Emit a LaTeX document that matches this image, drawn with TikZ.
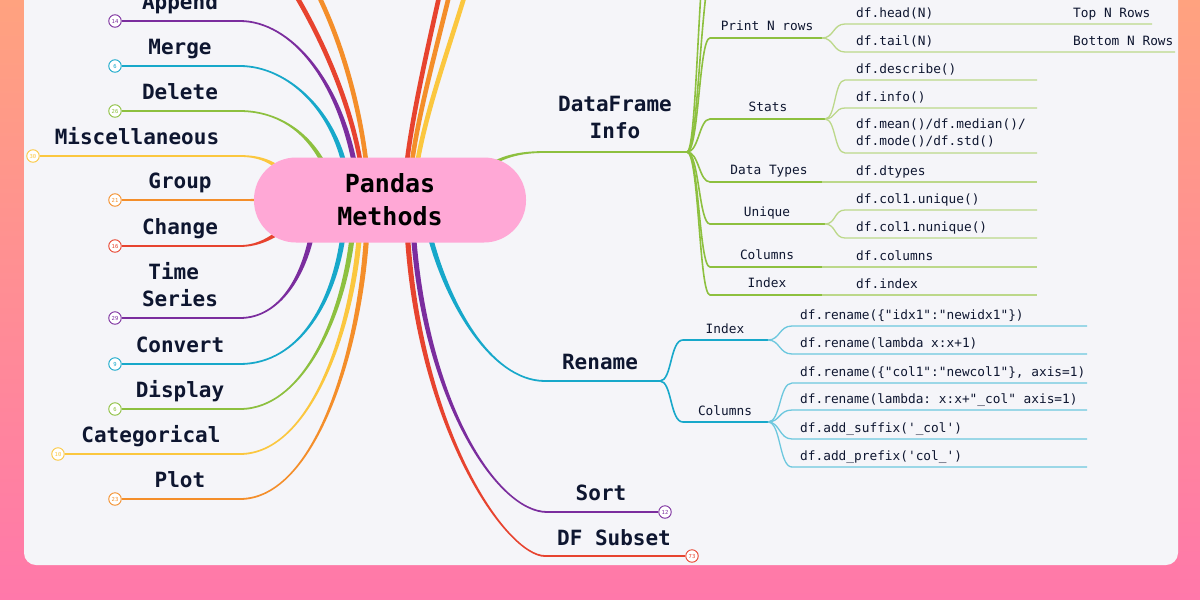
\documentclass[tikz,border=0pt]{standalone}
\usepackage{fontspec}
\setmonofont{DejaVu Sans Mono}
\usetikzlibrary{calc}
\definecolor{bgtop}{HTML}{FFA27F}
\definecolor{bgbot}{HTML}{FF78AA}
\definecolor{panel}{HTML}{F5F5F9}
\definecolor{ink}{HTML}{0E1630}
\definecolor{cPurple}{HTML}{7B2D9E}
\definecolor{cCyan}{HTML}{17A8CA}
\definecolor{cGreen}{HTML}{8DC03F}
\definecolor{cYellow}{HTML}{FBC73F}
\definecolor{cOrange}{HTML}{F48E2A}
\definecolor{cRed}{HTML}{E7432F}
\definecolor{hubpink}{HTML}{FFA8D6}
\definecolor{leafgreen}{HTML}{BCD88A}
\definecolor{leafcyan}{HTML}{6CC7DE}
\newcommand\mmMainFont{\ttfamily\bfseries\fontsize{21}{27}\selectfont}
\newcommand\mmSubFont{\ttfamily\fontsize{12.8}{17}\selectfont}
\newcommand\mmHubFont{\ttfamily\bfseries\fontsize{25}{33}\selectfont}
\newcommand\mmNumFont{\ttfamily\fontsize{5.5}{5.5}\selectfont}
% tapered branch: colour, end, ctrl1, ctrl2, hub point, half-width at hub, half-width at end
\newcommand\mmbranch[7]{\fill[#1] ($(#2)-(#7)$) .. controls ($(#3)-(#7)$) and ($(#4)-(#6)$) .. ($(#5)-(#6)$) -- ($(#5)+(#6)$) .. controls ($(#4)+(#6)$) and ($(#3)+(#7)$) .. ($(#2)+(#7)$) -- cycle;}
\tikzset{
  mainlbl/.style={font=\mmMainFont, text=ink, anchor=base, inner sep=0pt},
  sublbl/.style={font=\mmSubFont, text=ink, anchor=base, inner sep=0pt},
  leaf/.style={font=\mmSubFont, text=ink, anchor=base west, inner sep=0pt},
  numc/.style={circle, draw=#1, fill=white, line width=0.9pt, minimum size=12.5pt, inner sep=0pt, font=\mmNumFont, text=#1},
  mainline/.style={line width=2pt, draw=#1},
  subline/.style={line width=1.6pt, draw=#1},
  leafline/.style={line width=1.3pt, draw=#1},
  topline/.style={line width=4.6pt, draw=#1},
  hubnode/.style={rectangle, rounded corners=42pt, fill=hubpink, minimum width=272pt, minimum height=85pt, inner sep=0pt, font=\mmHubFont, text=black, align=center}
}
\begin{document}
\begin{tikzpicture}[x=1pt,y=-1pt]
\useasboundingbox (0,0) rectangle (1200,600);
\clip (0,0) rectangle (1200,600);
\shade[top color=bgtop, bottom color=bgbot] (0,0) rectangle (1200,600);
\fill[panel, rounded corners=12pt] (24,-30) rectangle (1178,565);

% ---------- branches going off the top ----------
\coordinate (hT1) at (363,180); \coordinate (tT1) at (280,-30);
\draw[topline=cRed] (hT1) .. controls (355,110) and (320,30) .. (tT1);
\coordinate (hT2) at (368,180); \coordinate (tT2) at (305,-30);
\draw[topline=cOrange] (hT2) .. controls (362,110) and (340,30) .. (tT2);
\coordinate (hT3) at (405,180); \coordinate (tT3) at (445,-30);
\draw[topline=cRed] (hT3) .. controls (410,120) and (432,30) .. (tT3);
\coordinate (hT4) at (410,180); \coordinate (tT4) at (455,-30);
\draw[topline=cOrange] (hT4) .. controls (415,120) and (442,30) .. (tT4);
\coordinate (hT5) at (415,180); \coordinate (tT5) at (472,-30);
\draw[topline=cYellow] (hT5) .. controls (421,120) and (456,30) .. (tT5);

% ---------- left branches ----------
\coordinate (eAppend) at (240,21); \coordinate (hAppend) at (357,178);
\mmbranch{cPurple}{eAppend}{290,21}{342,80}{hAppend}{2.6,0}{0,-0.9}
\node[numc=cPurple] (nAppend) at (115,21) {14};
\draw[mainline=cPurple] (nAppend) -- (eAppend);
\node[mainlbl] (lAppend) at (180,9) {Append};

\coordinate (eMerge) at (240,66); \coordinate (hMerge) at (347,178);
\mmbranch{cCyan}{eMerge}{288,66}{337,112}{hMerge}{2.6,0}{0,-0.9}
\node[numc=cCyan] (nMerge) at (115,66) {6};
\draw[mainline=cCyan] (nMerge) -- (eMerge);
\node[mainlbl] (lMerge) at (180,54) {Merge};

\coordinate (eDelete) at (240,111); \coordinate (hDelete) at (330,178);
\mmbranch{cGreen}{eDelete}{275,111}{312,130}{hDelete}{2.6,0}{0,-0.9}
\node[numc=cGreen] (nDelete) at (115,111) {26};
\draw[mainline=cGreen] (nDelete) -- (eDelete);
\node[mainlbl] (lDelete) at (180,99) {Delete};

\coordinate (eMisc) at (240,156); \coordinate (hMisc) at (292,182);
\mmbranch{cYellow}{eMisc}{262,156}{278,163}{hMisc}{1.8,-1.8}{0,-0.9}
\node[numc=cYellow] (nMisc) at (33,156) {30};
\draw[mainline=cYellow] (nMisc) -- (eMisc);
\node[mainlbl] (lMisc) at (137,144) {Miscellaneous};

\coordinate (eGroup) at (240,200); \coordinate (hGroup) at (290,200);
\mmbranch{cOrange}{eGroup}{255,200}{270,200}{hGroup}{0,1.6}{0,0.9}
\node[numc=cOrange] (nGroup) at (115,200) {21};
\draw[mainline=cOrange] (nGroup) -- (eGroup);
\node[mainlbl] (lGroup) at (180,188) {Group};

\coordinate (eChange) at (240,246); \coordinate (hChange) at (292,222);
\mmbranch{cRed}{eChange}{260,246}{276,236}{hChange}{1.8,1.8}{0,0.9}
\node[numc=cRed] (nChange) at (115,246) {16};
\draw[mainline=cRed] (nChange) -- (eChange);
\node[mainlbl] (lChange) at (180,234) {Change};

\coordinate (eTime) at (240,318); \coordinate (hTime) at (313,228);
\mmbranch{cPurple}{eTime}{280,318}{305,275}{hTime}{2.6,0}{0,0.9}
\node[numc=cPurple] (nTime) at (115,318) {29};
\draw[mainline=cPurple] (nTime) -- (eTime);
\node[font=\mmMainFont, text=ink, inner sep=0pt, align=center, anchor=south] (lTime) at (180,307) {Time\hphantom{e}\\Series};

\coordinate (eConvert) at (240,364); \coordinate (hConvert) at (344,228);
\mmbranch{cCyan}{eConvert}{300,364}{336,300}{hConvert}{2.6,0}{0,0.9}
\node[numc=cCyan] (nConvert) at (115,364) {9};
\draw[mainline=cCyan] (nConvert) -- (eConvert);
\node[mainlbl] (lConvert) at (180,352) {Convert};

\coordinate (eDisplay) at (240,409); \coordinate (hDisplay) at (353,228);
\mmbranch{cGreen}{eDisplay}{305,409}{346,310}{hDisplay}{2.6,0}{0,0.9}
\node[numc=cGreen] (nDisplay) at (115,409) {6};
\draw[mainline=cGreen] (nDisplay) -- (eDisplay);
\node[mainlbl] (lDisplay) at (180,397) {Display};

\coordinate (eCat) at (240,454); \coordinate (hCat) at (360,228);
\mmbranch{cYellow}{eCat}{310,454}{353,330}{hCat}{2.6,0}{0,0.9}
\node[numc=cYellow] (nCat) at (58,454) {10};
\draw[mainline=cYellow] (nCat) -- (eCat);
\node[mainlbl] (lCat) at (151,442) {Categorical};

\coordinate (ePlot) at (240,499); \coordinate (hPlot) at (367,228);
\mmbranch{cOrange}{ePlot}{315,499}{361,350}{hPlot}{2.6,0}{0,0.9}
\node[numc=cOrange] (nPlot) at (115,499) {23};
\draw[mainline=cOrange] (nPlot) -- (ePlot);
\node[mainlbl] (lPlot) at (180,487) {Plot};

% ---------- right main branches ----------
\coordinate (eDF) at (545,152); \coordinate (hDF) at (480,172); \coordinate (g) at (687,152);
\mmbranch{cGreen}{eDF}{520,152}{500,156}{hDF}{-1.1,-1.4}{0,-0.9}
\draw[mainline=cGreen] (eDF) -- (g);
\node[font=\mmMainFont, text=ink, inner sep=0pt, align=center, anchor=south] (lDF) at (615,139) {DataFrame\\Info};

\coordinate (eRen) at (545,381); \coordinate (hRen) at (428,228); \coordinate (r) at (660,381);
\mmbranch{cCyan}{eRen}{490,381}{445,300}{hRen}{-2.6,0}{0,0.9}
\draw[mainline=cCyan] (eRen) -- (r);
\node[mainlbl] (lRen) at (600,369) {Rename};

\coordinate (eSort) at (547,512); \coordinate (hSort) at (413,228);
\mmbranch{cPurple}{eSort}{497,512}{424,400}{hSort}{-2.6,0}{0,0.9}
\node[numc=cPurple] (nSort) at (665,512) {12};
\draw[mainline=cPurple] (eSort) -- (nSort);
\node[mainlbl] (lSort) at (601,500) {Sort};

\coordinate (eSub) at (545,556); \coordinate (hSub) at (407,228);
\mmbranch{cRed}{eSub}{507,556}{418,430}{hSub}{-2.6,0}{0,0.9}
\node[numc=cRed] (nSub) at (692,556) {73};
\draw[mainline=cRed] (eSub) -- (nSub);
\node[mainlbl] (lSub) at (614,545) {DF Subset};

% ---------- hub ----------
\node[hubnode] (hub) at (390,200) {Pandas\\Methods};

% ---------- DataFrame Info sub-branches ----------
\coordinate (offA) at (712,-40); \coordinate (offB) at (710,-100);
\draw[subline=cGreen] (g) .. controls (698,152) and (700,0) .. (offA);
\draw[subline=cGreen] (g) .. controls (697,152) and (698,-40) .. (offB);

\coordinate (sPrint) at (710,38); \coordinate (jPrint) at (822,38);
\draw[subline=cGreen] (g) .. controls (699,152) and (699,38) .. (sPrint) -- (jPrint);
\node[sublbl] (lPrint) at (767,30) {Print N rows};
\coordinate (sHead) at (845,24); \coordinate (eHead) at (1152,24);
\draw[leafline=leafgreen] (jPrint) .. controls (834,38) and (833,24) .. (sHead) -- (eHead);
\node[leaf] (tHead) at (856,17) {df.head(N)};
\node[leaf] (dHead) at (1073,17) {Top N Rows};
\coordinate (sTail) at (845,52); \coordinate (eTail) at (1175,52);
\draw[leafline=leafgreen] (jPrint) .. controls (834,38) and (833,52) .. (sTail) -- (eTail);
\node[leaf] (tTail) at (856,45) {df.tail(N)};
\node[leaf] (dTail) at (1073,45) {Bottom N Rows};

\coordinate (sStats) at (710,119); \coordinate (jStats) at (825,119);
\draw[subline=cGreen] (g) .. controls (699,152) and (699,119) .. (sStats) -- (jStats);
\node[sublbl] (lStats) at (768,111.5) {Stats};
\coordinate (sDesc) at (845,80); \coordinate (eDesc) at (1037,80);
\draw[leafline=leafgreen] (jStats) .. controls (836,119) and (834,80) .. (sDesc) -- (eDesc);
\node[leaf] (tDesc) at (856,73) {df.describe()};
\coordinate (sInfo) at (845,108); \coordinate (eInfo) at (1037,108);
\draw[leafline=leafgreen] (jStats) .. controls (836,119) and (834,108) .. (sInfo) -- (eInfo);
\node[leaf] (tInfo) at (856,101) {df.info()};
\coordinate (sMean) at (845,153); \coordinate (eMean) at (1037,153);
\draw[leafline=leafgreen] (jStats) .. controls (836,119) and (834,153) .. (sMean) -- (eMean);
\node[font=\mmSubFont, text=ink, inner sep=0pt, align=left, anchor=south west] (tMean) at (856,147.7) {df.mean()/df.median()/\\df.mode()/df.std()};

\coordinate (sTypes) at (710,182); \coordinate (jTypes) at (822,182); \coordinate (eTypes) at (1037,182);
\draw[subline=cGreen] (g) .. controls (699,152) and (699,182) .. (sTypes) -- (jTypes);
\draw[leafline=leafgreen] (jTypes) -- (eTypes);
\node[sublbl] (lTypes) at (769,174.5) {Data Types};
\node[leaf] (tTypes) at (856,175) {df.dtypes};

\coordinate (sUniq) at (710,224); \coordinate (jUniq) at (825,224);
\draw[subline=cGreen] (g) .. controls (699,152) and (699,224) .. (sUniq) -- (jUniq);
\node[sublbl] (lUniq) at (767,216.5) {Unique};
\coordinate (sU1) at (845,210); \coordinate (eU1) at (1037,210);
\draw[leafline=leafgreen] (jUniq) .. controls (836,224) and (834,210) .. (sU1) -- (eU1);
\node[leaf] (tU1) at (856,203) {df.col1.unique()};
\coordinate (sU2) at (845,238); \coordinate (eU2) at (1037,238);
\draw[leafline=leafgreen] (jUniq) .. controls (836,224) and (834,238) .. (sU2) -- (eU2);
\node[leaf] (tU2) at (856,231) {df.col1.nunique()};

\coordinate (sCols) at (710,267); \coordinate (jCols) at (822,267); \coordinate (eCols) at (1037,267);
\draw[subline=cGreen] (g) .. controls (699,152) and (699,267) .. (sCols) -- (jCols);
\draw[leafline=leafgreen] (jCols) -- (eCols);
\node[sublbl] (lCols) at (767,259.5) {Columns};
\node[leaf] (tCols) at (856,260) {df.columns};

\coordinate (sIdx) at (710,295); \coordinate (jIdx) at (822,295); \coordinate (eIdx) at (1037,295);
\draw[subline=cGreen] (g) .. controls (699,152) and (699,295) .. (sIdx) -- (jIdx);
\draw[leafline=leafgreen] (jIdx) -- (eIdx);
\node[sublbl] (lIdx) at (767,287.5) {Index};
\node[leaf] (tIdx) at (856,288) {df.index};

% ---------- Rename sub-branches ----------
\coordinate (sRI) at (683,340); \coordinate (jRI) at (768,340);
\draw[subline=cCyan] (r) .. controls (672,381) and (670,340) .. (sRI) -- (jRI);
\node[sublbl] (lRI) at (725,333) {Index};
\coordinate (sR1) at (792,326); \coordinate (eR1) at (1087,326);
\draw[leafline=leafcyan] (jRI) .. controls (780,340) and (779,326) .. (sR1) -- (eR1);
\node[leaf] (tR1) at (800,319) {df.rename(\{"idx1":"newidx1"\})};
\coordinate (sR2) at (792,354); \coordinate (eR2) at (1087,354);
\draw[leafline=leafcyan] (jRI) .. controls (780,340) and (779,354) .. (sR2) -- (eR2);
\node[leaf] (tR2) at (800,347) {df.rename(lambda x:x+1)};

\coordinate (sRC) at (683,422); \coordinate (jRC) at (768,422);
\draw[subline=cCyan] (r) .. controls (672,381) and (670,422) .. (sRC) -- (jRC);
\node[sublbl] (lRC) at (725,415) {Columns};
\coordinate (sR3) at (792,383); \coordinate (eR3) at (1087,383);
\draw[leafline=leafcyan] (jRC) .. controls (781,422) and (779,383) .. (sR3) -- (eR3);
\node[leaf] (tR3) at (800,376) {df.rename(\{"col1":"newcol1"\}, axis=1)};
\coordinate (sR4) at (792,410); \coordinate (eR4) at (1087,410);
\draw[leafline=leafcyan] (jRC) .. controls (780,422) and (779,410) .. (sR4) -- (eR4);
\node[leaf] (tR4) at (800,403) {df.rename(lambda: x:x+"\_col" axis=1)};
\coordinate (sR5) at (792,439); \coordinate (eR5) at (1087,439);
\draw[leafline=leafcyan] (jRC) .. controls (780,422) and (779,439) .. (sR5) -- (eR5);
\node[leaf] (tR5) at (800,432) {df.add\_suffix('\_col')};
\coordinate (sR6) at (792,467); \coordinate (eR6) at (1087,467);
\draw[leafline=leafcyan] (jRC) .. controls (781,422) and (779,467) .. (sR6) -- (eR6);
\node[leaf] (tR6) at (800,460) {df.add\_prefix('col\_')};
\end{tikzpicture}
\end{document}
